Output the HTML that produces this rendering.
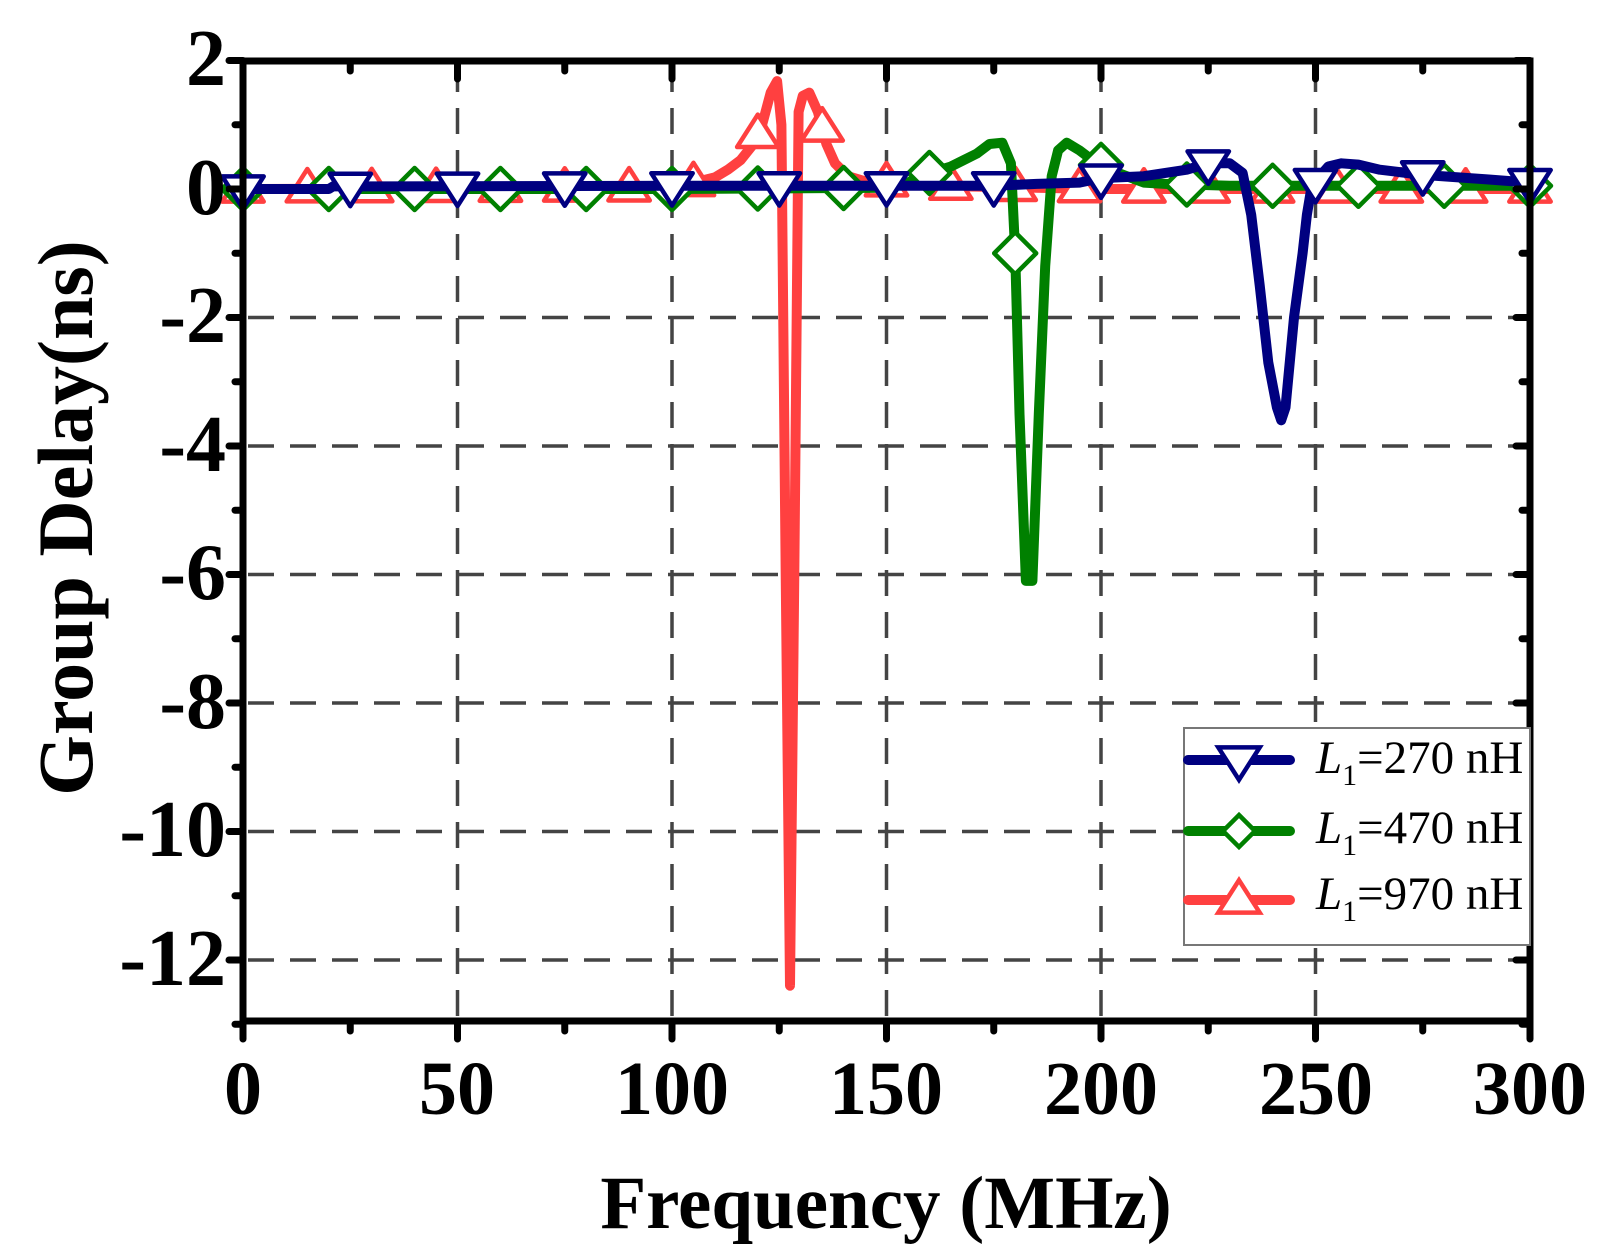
<!DOCTYPE html>
<html><head><meta charset="utf-8"><style>
html,body{margin:0;padding:0;background:#fff;}
svg{display:block;}
text{font-family:"Liberation Serif",serif;}
</style></head><body>
<svg id="s" width="1617" height="1258" viewBox="0 0 1617 1258" xmlns="http://www.w3.org/2000/svg">
<g id="grid" stroke="#444" stroke-width="3.5" stroke-dasharray="26,16"></g>
<g id="curves" fill="none" stroke-linejoin="round" stroke-linecap="round"></g>
<g id="axes" stroke="#000" stroke-width="7" stroke-linecap="round"></g>
<g font-weight="bold" font-size="80" fill="#000">
<text x="226" y="85" text-anchor="end">2</text>
<text x="226" y="214" text-anchor="end">0</text>
<text x="226" y="342" text-anchor="end">-2</text>
<text x="226" y="471" text-anchor="end">-4</text>
<text x="226" y="599" text-anchor="end">-6</text>
<text x="226" y="728" text-anchor="end">-8</text>
<text x="226" y="856" text-anchor="end">-10</text>
<text x="226" y="985" text-anchor="end">-12</text>
<g text-anchor="middle" font-size="76">
<text x="243" y="1114">0</text>
<text x="457" y="1114">50</text>
<text x="672" y="1114">100</text>
<text x="886" y="1114">150</text>
<text x="1101" y="1114">200</text>
<text x="1316" y="1114">250</text>
<text x="1530" y="1114">300</text>
</g>
<text x="886" y="1228" text-anchor="middle" font-size="75">Frequency (MHz)</text>
<text transform="translate(92,518) rotate(-90)" text-anchor="middle" font-size="78">Group Delay(ns)</text>
</g>
<g id="legend">
<rect x="1184" y="728" width="346" height="217" fill="#fff" stroke="#777" stroke-width="2"/>
</g>
<g font-size="47" fill="#000">
<text x="1316" y="773"><tspan font-style="italic">L</tspan><tspan font-size="30" dy="12">1</tspan><tspan dy="-12">=270 nH</tspan></text>
<text x="1316" y="843"><tspan font-style="italic">L</tspan><tspan font-size="30" dy="12">1</tspan><tspan dy="-12">=470 nH</tspan></text>
<text x="1316" y="909"><tspan font-style="italic">L</tspan><tspan font-size="30" dy="12">1</tspan><tspan dy="-12">=970 nH</tspan></text>
</g>
</svg>
<script>
var NS="http://www.w3.org/2000/svg";
function X(f){return 243+f*4.29;}
function Y(v){return 189-v*64.25;}
function el(p,t,a){var e=document.createElementNS(NS,t);for(var k in a)e.setAttribute(k,a[k]);p.appendChild(e);return e;}
var grid=document.getElementById('grid');
[50,100,150,200,250].forEach(function(f){el(grid,'line',{x1:X(f),y1:66,x2:X(f),y2:1016});});
[-2,-4,-6,-8,-10,-12].forEach(function(v){el(grid,'line',{x1:248,y1:Y(v),x2:1525,y2:Y(v)});});
var ax=document.getElementById('axes');
el(ax,'rect',{x:243,y:61,width:1287,height:960,fill:'none','stroke-linecap':'square'});
for(var v=2;v>=-13;v--){var big=(v%2==0);el(ax,'line',{x1:243-(big?14:8),y1:Y(v),x2:243,y2:Y(v)});el(ax,'line',{x1:1530,y1:Y(v),x2:1530-(big?14:8),y2:Y(v)});}
for(var f=0;f<=300;f+=25){var big=(f%50==0);el(ax,'line',{x1:X(f),y1:1021,x2:X(f),y2:1021+(big?18:10)});el(ax,'line',{x1:X(f),y1:61,x2:X(f),y2:61+(big?18:10)});}
function interp(pts,f){for(var i=0;i<pts.length-1;i++){if(f>=pts[i][0]&&f<=pts[i+1][0]){var t=(f-pts[i][0])/(pts[i+1][0]-pts[i][0]);return pts[i][1]+t*(pts[i+1][1]-pts[i][1]);}}return pts[pts.length-1][1];}
var blue=[[0,0],[20,0],[21,0.04],[100,0.05],[150,0.05],[175,0.05],[185,0.08],[195,0.1],[200,0.17],[210,0.2],[215,0.25],[220,0.3],[224,0.38],[226,0.4],[230,0.4],[233,0.25],[235,-0.4],[237,-1.5],[239,-2.7],[241,-3.4],[242,-3.6],[243,-3.4],[245,-2.0],[247,-1.0],[248,-0.4],[249,0],[251,0.2],[253,0.35],[256,0.4],[260,0.38],[265,0.3],[275,0.22],[290,0.15],[300,0.1]];
var green=[[0,0],[100,0],[150,0.02],[155,0.1],[160,0.25],[165,0.35],[168,0.45],[171,0.55],[174,0.7],[177,0.72],[179,0.4],[180,-1.0],[181,-3.5],[182.5,-6.1],[184,-6.1],[185.5,-3.5],[187,-1.2],[188.5,0.2],[190,0.6],[192,0.72],[195,0.6],[198,0.45],[202,0.3],[206,0.2],[210,0.1],[215,0.08],[230,0.05],[300,0.05]];
var red=[[0,0],[100,0.02],[105,0.1],[110,0.18],[113,0.3],[116,0.45],[119,0.7],[121,1.0],[123,1.5],[124.5,1.68],[125.5,1.0],[126.5,-6],[127.5,-12.4],[128.5,-6],[129.5,1.2],[130.5,1.45],[132,1.5],[134,1.2],[136,0.7],[138,0.4],[141,0.2],[145,0.12],[160,0.05],[200,0.0],[300,0]];
var cur=document.getElementById('curves');
function path(pts){return pts.map(function(p,i){return (i?'L':'M')+X(p[0]).toFixed(1)+','+Y(p[1]).toFixed(1);}).join('');}
function tri(x,y,up,c){var s=18;var d=up?('M'+x+','+(y-s*1.1)+'L'+(x+s*1.15)+','+(y+s*0.7)+'L'+(x-s*1.15)+','+(y+s*0.7)+'Z'):('M'+x+','+(y+s*1.1)+'L'+(x+s*1.15)+','+(y-s*0.7)+'L'+(x-s*1.15)+','+(y-s*0.7)+'Z');return el(cur,'path',{d:d,fill:'#fff',stroke:c,'stroke-width':4.5});}
function dia(x,y,c){var s=21;return el(cur,'path',{d:'M'+x+','+(y-s)+'L'+(x+s)+','+y+'L'+x+','+(y+s)+'L'+(x-s)+','+y+'Z',fill:'#fff',stroke:c,'stroke-width':4.5});}
var R='#ff4040',G='#008000',B='#000080';
el(cur,'path',{d:path(red),stroke:R,'stroke-width':10});
for(var f=0;f<=300;f+=15)tri(X(f),Y(interp(red,f)),true,R);
el(cur,'path',{d:path(green),stroke:G,'stroke-width':10});
for(var f=0;f<=300;f+=20)dia(X(f),Y(interp(green,f)),G);
el(cur,'path',{d:path(blue),stroke:B,'stroke-width':10});
for(var f=0;f<=300;f+=25)tri(X(f),Y(interp(blue,f)),false,B);
var lg=document.getElementById('legend');
[[760,B,'t'],[831,G,'d'],[900,R,'u']].forEach(function(r){
 el(lg,'line',{x1:1188,y1:r[0],x2:1290,y2:r[0],stroke:r[1],'stroke-width':10,'stroke-linecap':'round'});
 var x=1239,y=r[0],s=18,d;
 if(r[2]=='t')d='M'+x+','+(y+s*1.1)+'L'+(x+s*1.15)+','+(y-s*0.7)+'L'+(x-s*1.15)+','+(y-s*0.7)+'Z';
 else if(r[2]=='u')d='M'+x+','+(y-s*1.1)+'L'+(x+s*1.15)+','+(y+s*0.7)+'L'+(x-s*1.15)+','+(y+s*0.7)+'Z';
 else d='M'+x+','+(y-16)+'L'+(x+16)+','+y+'L'+x+','+(y+16)+'L'+(x-16)+','+y+'Z';
 el(lg,'path',{d:d,fill:'#fff',stroke:r[1],'stroke-width':4.5});
});
</script>
</body></html>
